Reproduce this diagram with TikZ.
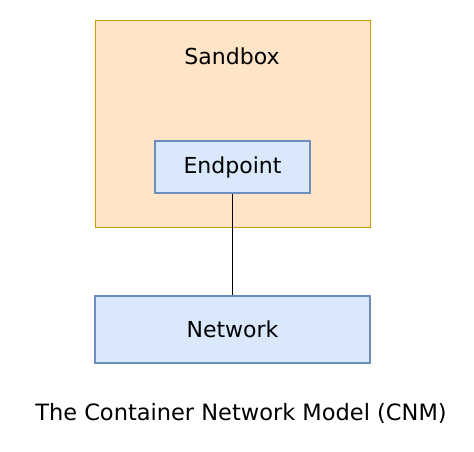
\documentclass[tikz,border=0pt]{standalone}
\usepackage{fontspec}
\setmainfont{DejaVu Sans}
\definecolor{orfill}{HTML}{FFE4C8}
\definecolor{ordraw}{HTML}{D79B00}
\definecolor{blfill}{HTML}{DAE8FC}
\definecolor{bldraw}{HTML}{6C8EBF}
\begin{document}
\begin{tikzpicture}[x=1pt,y=-1pt,
  sandboxbox/.style={draw=ordraw,fill=orfill,line width=1.3pt},
  bluebox/.style={draw=bldraw,fill=blfill,line width=1.1pt,inner sep=0pt},
  lbl/.style={font=\fontsize{22}{26}\selectfont}]
\useasboundingbox (0,0) rectangle (474,451);
\fill[white] (0,0) rectangle (474,451);
\node[sandboxbox,minimum width=275pt,minimum height=207pt,anchor=north west,inner sep=0pt] (sb) at (95,20) {};
\node[lbl] (sbt) at (232,56) {Sandbox};
\node[bluebox,minimum width=155pt,minimum height=52pt,lbl] (ep) at (232.5,167) {Endpoint};
\node[bluebox,minimum width=275pt,minimum height=67pt,lbl] (nw) at (232.5,329.5) {Network};
\draw[line width=1.2pt] (ep.south) -- (nw.north);
\node[font=\fontsize{22.5}{26}\selectfont] (cap) at (241,413) {The Container Network Model (CNM)};
\end{tikzpicture}
\end{document}
